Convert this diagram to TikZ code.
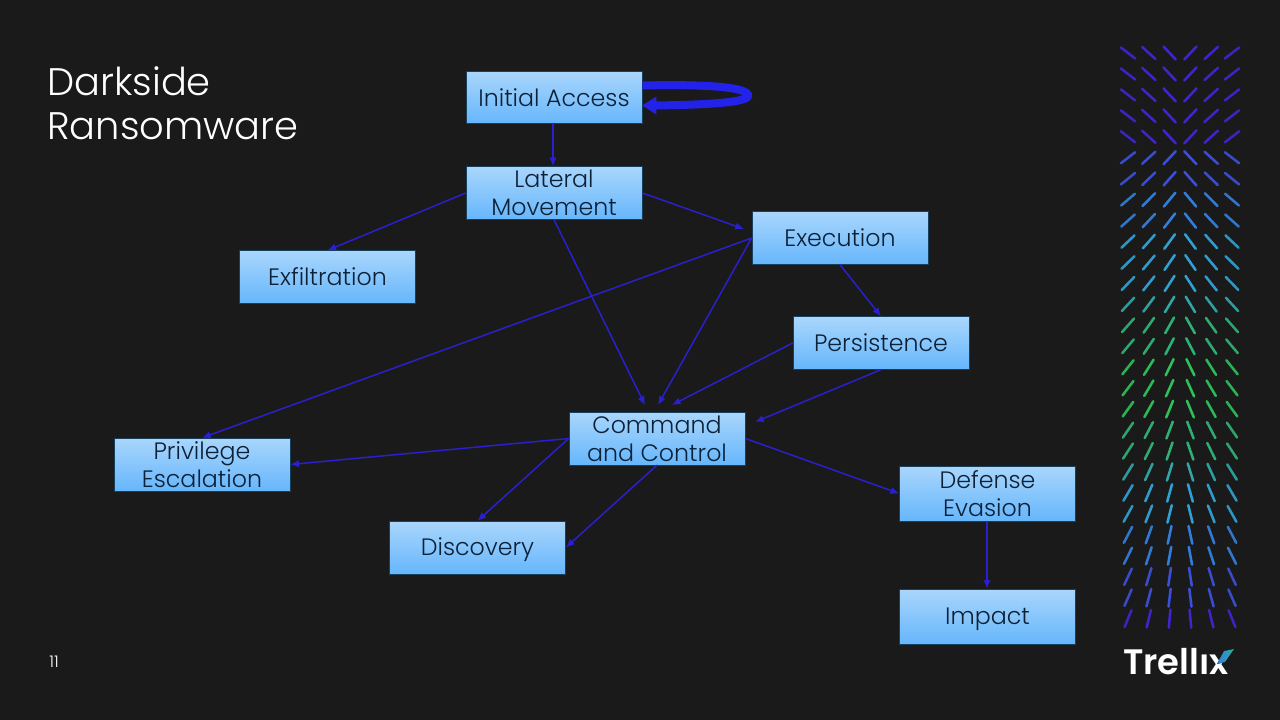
\documentclass[tikz,border=0pt]{standalone}
\usepackage{fontspec}
\setmainfont{Poppins Light}
\newfontfamily\logofont{Poppins SemiBold}
\usetikzlibrary{%
  arrows.meta,%
  calc%
}
\definecolor{slidebg}{HTML}{1A1A1A}
\definecolor{linkblue}{HTML}{2A20D0}
\definecolor{loopblue}{HTML}{2222E8}
\definecolor{boxtop}{HTML}{A9D6FC}
\definecolor{boxbot}{HTML}{66B6FC}
\definecolor{boxline}{HTML}{16405C}
\definecolor{boxtext}{HTML}{0C2036}
\definecolor{tickA}{HTML}{3E26D4}
\definecolor{tickB}{HTML}{3C50DC}
\definecolor{tickC}{HTML}{3280E0}
\definecolor{tickD}{HTML}{30A4D8}
\definecolor{tickE}{HTML}{2EAAA8}
\definecolor{tickF}{HTML}{2EB478}
\definecolor{tickG}{HTML}{2CC45C}
\tikzset{
  stepbox/.style={draw=boxline,line width=0.5pt,top color=boxtop,bottom color=boxbot,
    text=boxtext,minimum width=132pt,minimum height=39.5pt,inner sep=0pt,align=center,
    font=\fontsize{17.8}{21}\selectfont},
  link/.style={draw=linkblue,line width=1.1pt,-{Latex[length=6.5pt,width=5.5pt]}},
  tick/.style={line width=1.9pt,line cap=round}
}
\begin{document}
\begin{tikzpicture}[x=0.75pt,y=-0.75pt]
  \fill[slidebg] (0,0) rectangle (1280,720);
  \useasboundingbox (0,0) rectangle (1280,720);

  \node[white,anchor=north west,align=left,inner sep=0pt,font=\fontsize{28.8}{33}\selectfont]
    (title) at (47,66) {Darkside\\Ransomware};
  \node[white,font=\fontsize{12}{14}\selectfont] (pagenum) at (54,662) {11};

  % boxes
  \node[stepbox] (initial) at (554,97.5) {Initial Access};
  \node[stepbox] (lateral) at (554,193) {Lateral\\Movement};
  \node[stepbox] (exfil) at (327.5,277) {Exfiltration};
  \node[stepbox] (exec) at (840,238) {Execution};
  \node[stepbox] (persist) at (881,343) {Persistence};
  \node[stepbox] (command) at (657,438.5) {Command\\and Control};
  \node[stepbox] (privesc) at (202,464.5) {Privilege\\Escalation};
  \node[stepbox,text depth=1pt] (discovery) at (477.5,547.5) {Discovery};
  \node[stepbox,minimum height=41.25pt] (defense) at (987.5,493.5) {Defense\\Evasion};
  \node[stepbox,minimum height=41.25pt,text depth=0pt] (impact) at (987.5,616.5) {Impact};

  % free arrow ends, the arrows stop short of the box
  \coordinate (initout) at ($(initial.south)+(-1,0)$);
  \coordinate (latin) at ($(lateral.north)+(-1,0)$);
  \coordinate (execin) at (744,229);
  \coordinate (cmdA) at (645,405);
  \coordinate (cmdB) at (658,405);
  \coordinate (cmdC) at (672,405);
  \coordinate (cmdD) at (755,422);
  \coordinate (defout) at ($(defense.south)+(-0.5,0)$);
  \coordinate (impin) at ($(impact.north)+(-0.5,0)$);

  % links
  \draw[link] (initout) -- (latin);
  \draw[link] (lateral.west) -- (exfil.north);
  \draw[link] (lateral.east) -- (execin);
  \draw[link] (lateral.south) -- (cmdA);
  \draw[link] (exec.west) -- (privesc.north);
  \draw[link] (exec.west) -- (cmdB);
  \draw[link] (exec.south) -- (persist.north);
  \draw[link] (persist.west) -- (cmdC);
  \draw[link] (persist.south) -- (cmdD);
  \draw[link] (command.west) -- (privesc.east);
  \draw[link] (command.west) -- (discovery.north);
  \draw[link] (command.south) -- (discovery.east);
  \draw[link] (command.east) -- (defense.west);
  \draw[link] (defout) -- (impin);

  % loop on the first box
  \coordinate (loopout) at ($(initial.east)+(0,-12)$);
  \coordinate (loopin) at ($(initial.east)+(8,8)$);
  \draw[loopblue,line width=6pt] (loopout) .. controls (705,84) and (750,87) .. (748,96)
    .. controls (747,103) and (700,105) .. (loopin);
  \fill[loopblue] ($(initial.east)+(0,8)$) -- ++(14,-9) -- ++(0,18) -- cycle;

  % ticks
  \foreach \r/\col in {0/tickA,1/tickA,2/tickA,3/tickA,4/tickA,5/tickB,6/tickB,7/tickC,8/tickC,
      9/tickD,10/tickD,11/tickD,12/tickE,13/tickF,14/tickF,15/tickG,16/tickG,17/tickG,18/tickF,
      19/tickF,20/tickE,21/tickD,22/tickD,23/tickC,24/tickC,25/tickB,26/tickB,27/tickA}
    \foreach \c in {0,...,5} {
      \pgfmathsetmacro{\u}{abs(\c-2.5)}
      \pgfmathsetmacro{\t}{max(\r-5,0)/22}
      \pgfmathsetmacro{\ang}{(41+4.5*\u)*(1-\t)+(1+8.5*\u)*\t}
      \pgfmathsetmacro{\flip}{(\c<2.5 ? -1 : 1)*(\r<5 ? -1 : 1)}
      \pgfmathsetmacro{\fade}{100-4*\u}
      \coordinate (tickmid) at (1128+20.8*\c,53+20.95*\r);
      \draw[tick,\col!\fade!slidebg] (tickmid) ++(90-\flip*\ang:-9) -- ++(90-\flip*\ang:18);
    }

  % logo
  \node[white,inner sep=0pt,font=\fontsize{26.5}{30}\logofont] (logo) at (1176,662) {Trellıx};
  \fill[left color=tickC,right color=tickE!70!tickF] (1224,651) -- (1234,649) -- (1225,662) -- (1217,664) -- cycle;
\end{tikzpicture}
\end{document}
